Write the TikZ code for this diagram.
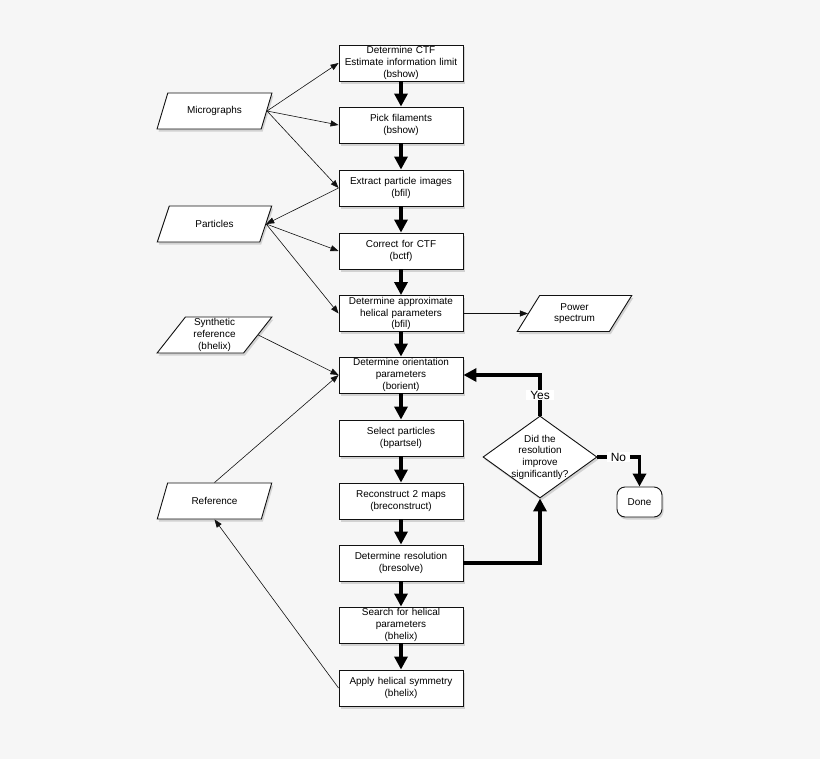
\documentclass[tikz,border=0pt]{standalone}
\usepackage{fontspec}
\setmainfont{Liberation Sans}
\usetikzlibrary{arrows.meta,positioning,shapes.geometric,shadows}
\definecolor{Paper}{HTML}{F6F6F6}
\definecolor{Ink}{HTML}{111111}

\begin{document}
\begin{tikzpicture}[x=1bp,y=-1bp,
    font=\fontsize{10}{11.7}\selectfont,
    shade/.style={drop shadow={shadow xshift=1.5bp,shadow yshift=-2.5bp,opacity=0.3}},
    stepbox/.style={draw=Ink,line width=0.9bp,fill=white,shade,text width=122bp,
      inner xsep=1bp,inner ysep=0.5bp,minimum height=36bp,align=center},
    databox/.style={trapezium,trapezium left angle=58,trapezium right angle=122,
      trapezium stretches=true,draw=Ink,line width=0.9bp,fill=white,shade,
      minimum width=115bp,minimum height=36bp,inner sep=0.5bp,align=center},
    decision/.style={diamond,draw=Ink,line width=0.9bp,fill=white,shade,
      minimum width=114bp,minimum height=82bp,inner sep=0pt},
    endbox/.style={rectangle,rounded corners=8bp,draw=Ink,line width=0.9bp,fill=white,
      shade,minimum width=45bp,minimum height=30bp,inner sep=0pt},
    flow/.style={draw=black,line width=3.5bp,-{Triangle[length=13bp,width=13bp]}},
    feed/.style={draw=Ink,line width=0.6bp,-{Triangle[length=8bp,width=6bp]}},
    answer/.style={fill=white,inner xsep=4bp,inner ysep=1bp,font=\fontsize{12}{14}\selectfont}]
  \fill[Paper] (0,0) rectangle (820,759);

  % main column
  \node[stepbox] (ctf) at (401,63) {Determine CTF\\Estimate information limit\\(bshow)};
  \node[stepbox] (pick) at (401,125) {Pick filaments\\(bshow)};
  \node[stepbox] (extract) at (401,188) {Extract particle images\\(bfil)};
  \node[stepbox] (correct) at (401,251) {Correct for CTF\\(bctf)};
  \node[stepbox] (approx) at (401,313.5) {Determine approximate\\helical parameters\\(bfil)};
  \node[stepbox] (orient) at (401,375) {Determine orientation\\parameters\\(borient)};
  \node[stepbox] (select) at (401,438) {Select particles\\(bpartsel)};
  \node[stepbox] (recon) at (401,501) {Reconstruct 2 maps\\(breconstruct)};
  \node[stepbox] (resol) at (401,563) {Determine resolution\\(bresolve)};
  \node[stepbox] (search) at (401,625) {Search for helical\\parameters\\(bhelix)};
  \node[stepbox] (apply) at (401,688) {Apply helical symmetry\\(bhelix)};

  % data
  \node[databox] (micro) at (214.5,111) {Micrographs};
  \node[databox] (parts) at (214.5,224) {Particles};
  \node[databox] (synth) at (214.5,335) {Synthetic\\reference\\(bhelix)};
  \node[databox] (refer) at (214.5,501) {Reference};
  \node[databox] (power) at (574.5,313.5) {Power\\spectrum};

  % loop test
  \node[decision,label={[align=center,inner sep=0pt]center:Did the\\resolution\\improve\\significantly?}]
    (decide) at (540,457) {};
  \node[endbox] (done) at (639.5,502) {Done};

  \draw[flow] (ctf) -- (pick);
  \draw[flow] (pick) -- (extract);
  \draw[flow] (extract) -- (correct);
  \draw[flow] (correct) -- (approx);
  \draw[flow] (approx) -- (orient);
  \draw[flow] (orient) -- (select);
  \draw[flow] (select) -- (recon);
  \draw[flow] (recon) -- (resol);
  \draw[flow] (resol) -- (search);
  \draw[flow] (search) -- (apply);
  \draw[flow] (resol.east) -| (decide.south);
  \draw[flow] (decide.north) |- node[answer,pos=0.25] {Yes} (orient.east);
  \draw[flow] (decide.east) -| node[answer,pos=0.25] {No} (done.north);

  \draw[feed] (micro.east) -- (ctf.west);
  \draw[feed] (micro.east) -- (pick.west);
  \draw[feed] (micro.east) -- (extract.west);
  \draw[feed] (extract.west) -- (parts.east);
  \draw[feed] (parts.east) -- (correct.west);
  \draw[feed] (parts.east) -- (approx.west);
  \draw[feed] (approx.east) -- (power.west);
  \draw[feed] (synth.east) -- (orient.west);
  \draw[feed] (refer.north) -- (orient.west);
  \draw[feed] (apply.west) -- (refer.south);
\end{tikzpicture}
\end{document}
